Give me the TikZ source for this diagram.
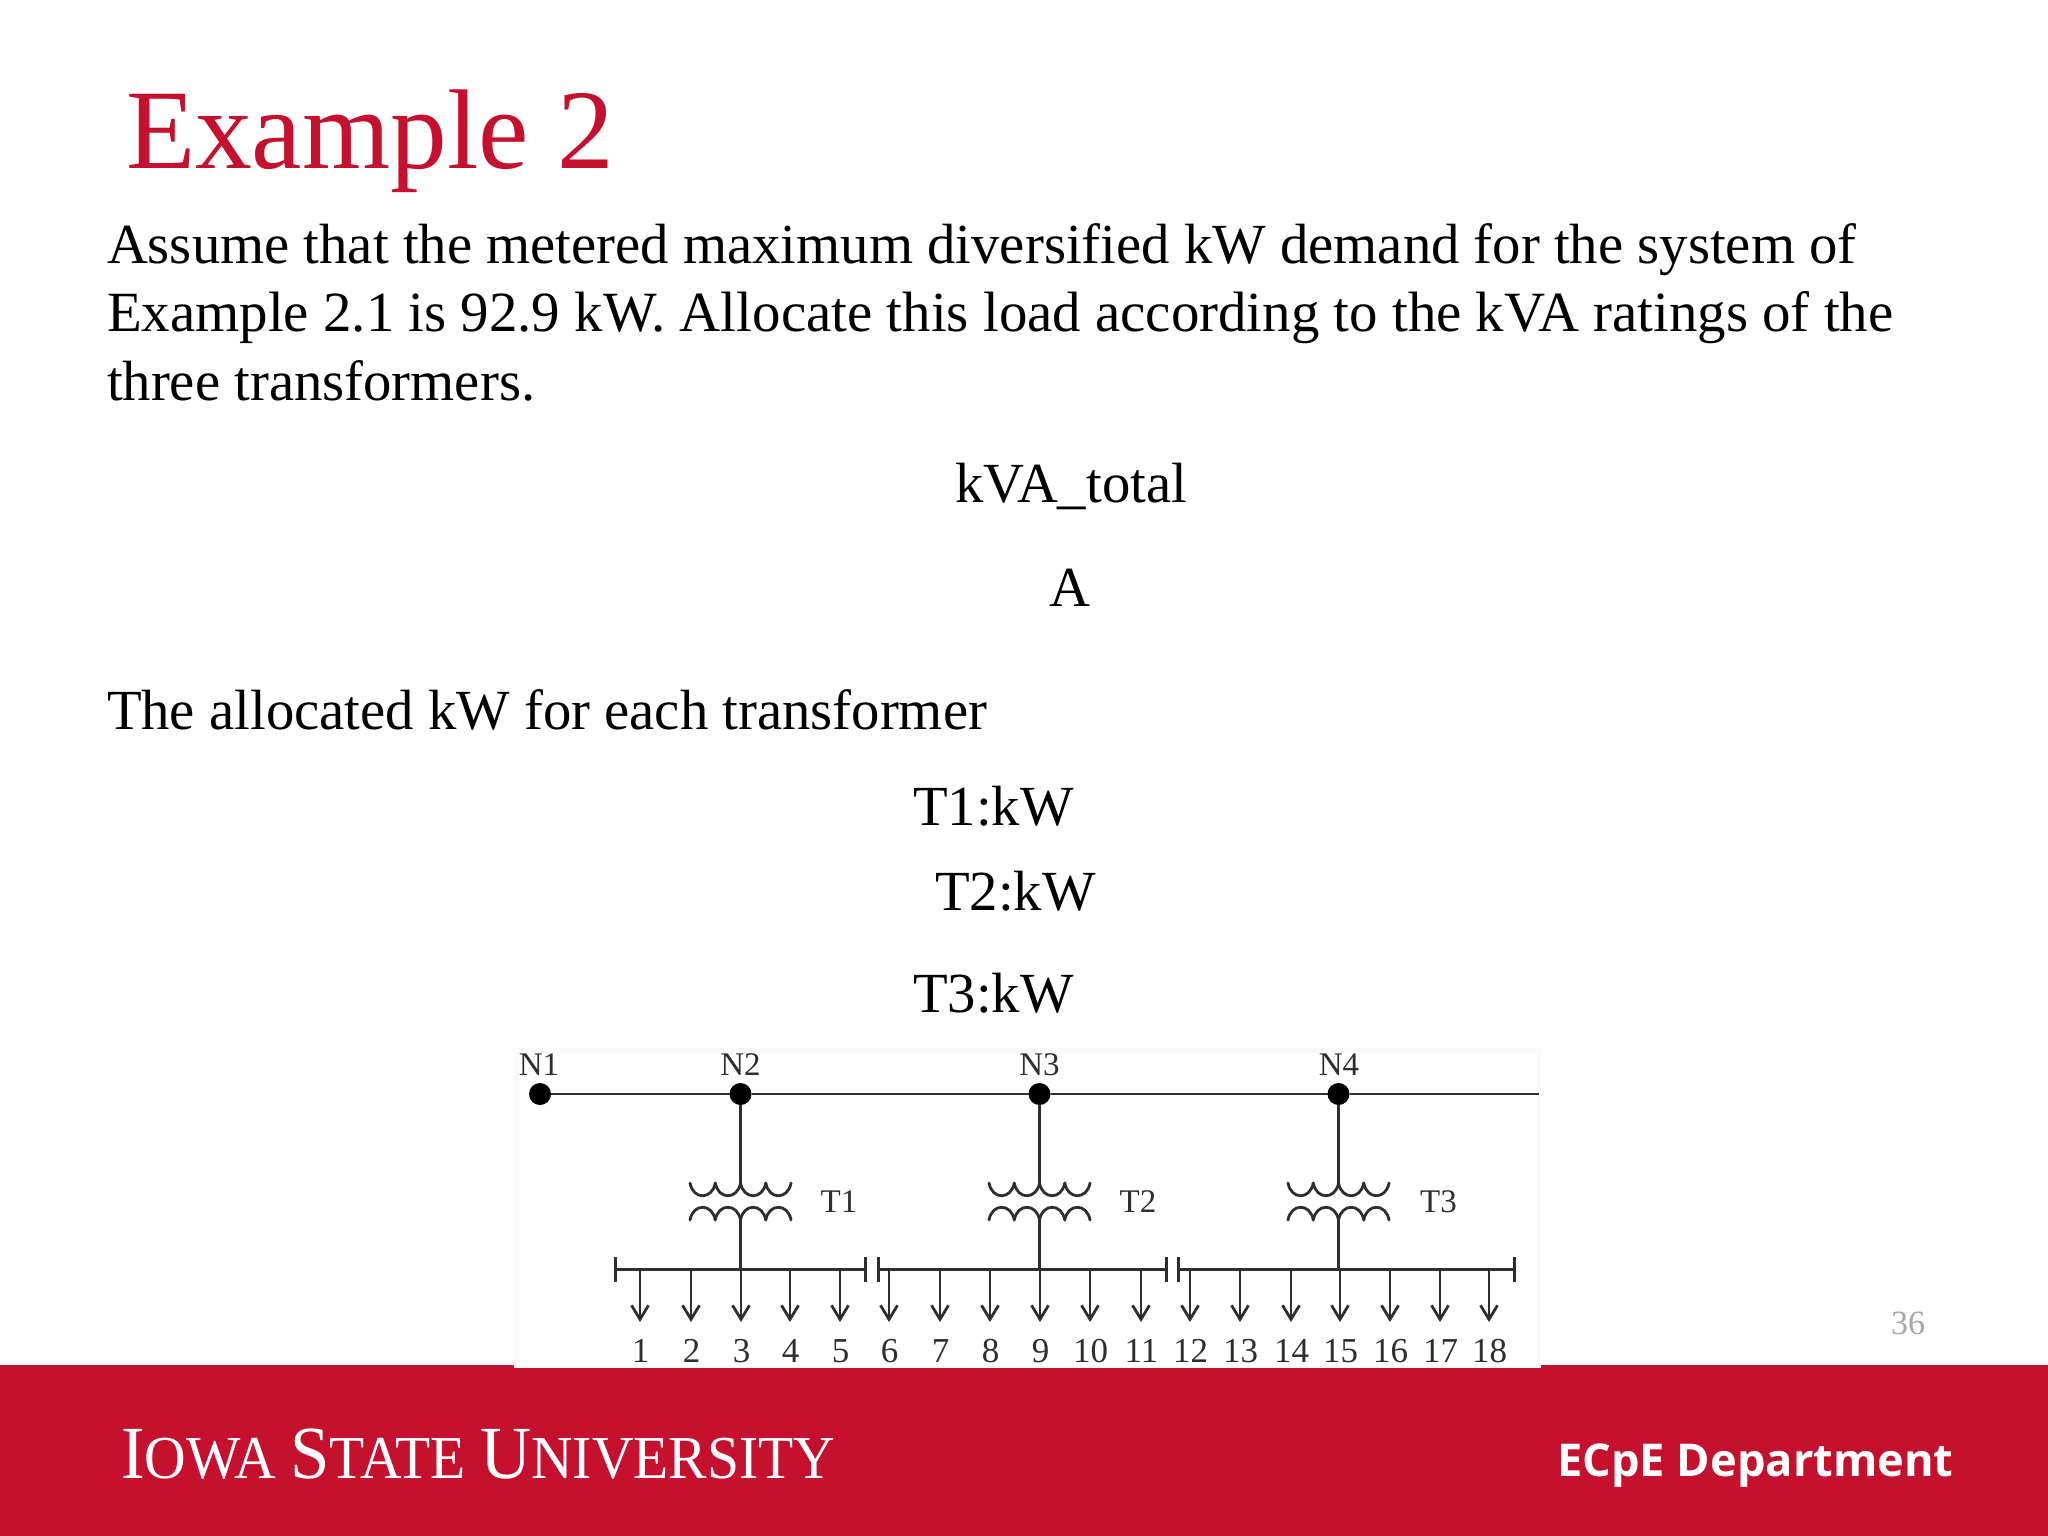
\documentclass[tikz,border=0pt]{standalone}
\usepackage{fontspec}
\usepackage{graphicx}
\setmainfont{Liberation Serif}
\newfontfamily\ecpefont{Open Sans}
\usetikzlibrary{arrows.meta}
\definecolor{isured}{HTML}{C5102E}
\definecolor{ink}{HTML}{2E2E2E}
\definecolor{pagenum}{HTML}{A6A6A6}
\tikzset{
  txt/.style={inner sep=0pt,outer sep=0pt,anchor=base west,font=\fontsize{56.7}{68}\selectfont,text=black},
  ctxt/.style={txt,anchor=base},
  lab/.style={inner sep=0pt,outer sep=0pt,anchor=center,font=\fontsize{33}{33}\selectfont,text=ink},
  wire/.style={draw=ink,line width=2.8pt},
  bus/.style={draw=ink,line width=3pt},
  coil/.style={draw=ink,line width=2.8pt,line cap=round},
  load/.style={draw=ink,line width=2.8pt,-{Straight Barb[length=14pt,width=17pt,line width=2.8pt]}},
  busdot/.style={circle,fill=black,inner sep=0pt,minimum size=22pt,outer sep=0pt}
}
\begin{document}
\begin{tikzpicture}[x=1pt,y=-1pt]
\useasboundingbox (0,0) rectangle (2048,1536);
\fill[white] (0,0) rectangle (2048,1536);
% footer band
\fill[isured] (0,1365) rectangle (2048,1536);
% inserted figure background
\fill[black!2] (514,1048) rectangle (1541,1368);
\fill[white] (519,1053) rectangle (1537,1366);

% title and text
\node[txt,font=\fontsize{113.4}{114}\selectfont,text=isured] (title) at (126,168) {Example 2};
\node[txt] (l1) at (107,263.5) {Assume that the metered maximum diversified kW demand for the system of};
\node[txt,font=\fontsize{56.87}{68}\selectfont] (l2) at (107,331.5) {Example 2.1 is 92.9 kW. Allocate this load according to the kVA ratings of the};
\node[txt] (l3) at (107,400) {three transformers.};
\node[txt] (kva) at (955,502) {kVA\_total};
\node[ctxt] (a) at (1070,606) {A};
\node[txt] (alloc) at (107,729) {The allocated kW for each transformer};
\node[txt] (t1kw) at (913,825) {T1:kW};
\node[txt] (t2kw) at (935,910) {T2:kW};
\node[txt] (t3kw) at (913,1012) {T3:kW};
\node[inner sep=0pt,anchor=center,font=\fontsize{34}{34}\selectfont,text=pagenum] (page) at (1908,1323) {36};

% footer text
\node[inner sep=0pt,anchor=base west,text=white] (logo) at (121,1478)
  {\resizebox{714pt}{\height}{\fontsize{75}{75}\selectfont I\fontsize{61}{61}\selectfont OWA \fontsize{75}{75}\selectfont S\fontsize{61}{61}\selectfont TATE \fontsize{75}{75}\selectfont U\fontsize{61}{61}\selectfont NIVERSITY}};
\node[inner sep=0pt,anchor=base west,text=white,font=\ecpefont\bfseries\fontsize{45.2}{45}\selectfont] (dept) at (1557,1476) {ECpE Department};

% main line
\node[busdot] (n1) at (540,1094) {};
\node[busdot] (n2) at (740.5,1094) {};
\node[busdot] (n3) at (1039.5,1094) {};
\node[busdot] (n4) at (1338.5,1094) {};
\coordinate (lineend) at (1539,1094);
\draw[wire] (n1) -- (n2) -- (n3) -- (n4) -- (lineend);
\node[lab] (ln1) at (539,1065) {N1};
\node[lab] (ln2) at (740.5,1065) {N2};
\node[lab] (ln3) at (1039.5,1065) {N3};
\node[lab] (ln4) at (1339,1065) {N4};

% low-voltage buses
\coordinate (b1w) at (615,1269); \coordinate (b1e) at (865,1269);
\coordinate (b2w) at (878,1269); \coordinate (b2e) at (1166,1269);
\coordinate (b3w) at (1178,1269); \coordinate (b3e) at (1514,1269);
\foreach \a/\b in {b1w/b1e,b2w/b2e,b3w/b3e}{
  \draw[bus] (\a) -- (\b);
  \draw[bus] ([yshift=-12.5pt]\a) -- ([yshift=12.5pt]\a);
  \draw[bus] ([yshift=-12.5pt]\b) -- ([yshift=12.5pt]\b);
}

% transformers
\foreach \t/\n/\x/\lx in {1/n2/740.5/839,2/n3/1039.5/1138,3/n4/1338.5/1438.5}{
  \coordinate (tt\t) at (\x,1186);
  \coordinate (tb\t) at (\x,1220);
  \coordinate (bb\t) at (\x,1269);
  \draw[wire] (\n) -- (tt\t);
  \draw[wire] (tb\t) -- (bb\t);
  \foreach \i in {0,1,2,3}{
    \pgfmathsetmacro{\xa}{\x-50.5+25.25*\i}
    \pgfmathsetmacro{\xb}{\xa+25.25}
    \draw[coil] (\xa,1183) .. controls +(3,17) and +(-3,17) .. (\xb,1183);
    \draw[coil] (\xa,1220) .. controls +(3,-17) and +(-3,-17) .. (\xb,1220);
  }
  \node[lab] (lt\t) at (\lx,1202) {T\t};
}

% loads
\foreach \k/\x in {1/640,2/691,3/741,4/790,5/840,6/889,7/940,8/990,9/1040,10/1090,11/1141,12/1190,13/1240,14/1291,15/1340,16/1390,17/1440,18/1489}{
  \coordinate (s\k) at (\x,1269);
  \coordinate (e\k) at (\x,1322);
  \draw[load] (s\k) -- (e\k);
  \node[lab,font=\fontsize{35}{35}\selectfont] (num\k) at (\x+0.5,1351) {\k};
}
\end{tikzpicture}
\end{document}
